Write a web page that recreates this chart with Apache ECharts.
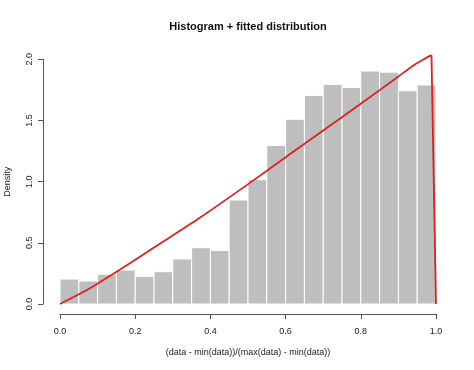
<!DOCTYPE html>
<html>
<head>
<meta charset="utf-8">
<script src="https://cdn.jsdelivr.net/npm/echarts@6/dist/echarts.min.js"></script>
<style>html,body{margin:0;padding:0;background:#fff;}#c{width:474px;height:370px;}</style>
</head>
<body>
<div id="c"></div>
<script>
// Histogram bins (start, end) and densities
var binStarts = [0.00,0.05,0.10,0.15,0.20,0.25,0.30,0.35,0.40,0.45,0.50,0.55,0.60,0.65,0.70,0.75,0.80,0.85,0.90,0.95];
var binEnds   = [0.05,0.10,0.15,0.20,0.25,0.30,0.35,0.40,0.45,0.50,0.55,0.60,0.65,0.70,0.75,0.80,0.85,0.90,0.95,1.00];
var densities = [0.204,0.188,0.243,0.278,0.226,0.264,0.368,0.460,0.438,0.850,1.016,1.296,1.510,1.705,1.795,1.770,1.904,1.895,1.743,1.790];
// Fitted curve points
var curveX = [0, 0.075, 0.164, 0.253, 0.372, 0.505, 0.625, 0.758, 0.851, 0.900, 0.940, 0.970, 0.988, 1.000];
var curveY = [0, 0.120, 0.290, 0.468, 0.705, 0.990, 1.255, 1.545, 1.750, 1.860, 1.950, 2.005, 2.034, 0];
var xTicks = [0, 0.2, 0.4, 0.6, 0.8, 1.0];
var yTicks = [0, 0.5, 1.0, 1.5, 2.0];

var histData = binStarts.map(function(s, i){ return [s, binEnds[i], densities[i]]; });
var curvePts = curveX.map(function(x, i){ return [x, curveY[i]]; });
var n = curvePts.length;
var risePart = curvePts.slice(0, n - 1);
var dropPart = curvePts.slice(n - 2);

var font = 'Liberation Sans, Arial, Helvetica, sans-serif';
var chart = echarts.init(document.getElementById('c'), null, {renderer:'canvas'});
chart.setOption({
  backgroundColor: '#ffffff',
  animation: false,
  title: {
    text: 'Histogram + fitted distribution',
    left: 243, top: 16, textAlign: 'center',
    textStyle: {fontFamily: font, fontSize: 11, fontWeight: 'bold', color: '#111'}
  },
  grid: {left: 60, right: 38, top: 59.3, bottom: 66, containLabel: false, outerBoundsMode: 'none'},
  xAxis: {
    type: 'value', min: 0, max: 1, interval: 0.2,
    offset: 10,
    name: '(data - min(data))/(max(data) - min(data))',
    nameLocation: 'middle', nameGap: 34,
    nameTextStyle: {fontFamily: font, fontSize: 9, color: '#222'},
    axisLine: {show: true, onZero: false, lineStyle: {color: '#555', width: 1}},
    axisTick: {show: true, length: 5, lineStyle: {color: '#555'}},
    splitLine: {show: false},
    axisLabel: {fontFamily: font, fontSize: 9, color: '#222', margin: 13,
      formatter: function(v){ return v.toFixed(1); }}
  },
  yAxis: {
    type: 'value', min: 0, max: 2, interval: 0.5,
    offset: 17,
    name: 'Density',
    nameLocation: 'middle', nameGap: 31, nameRotate: 90,
    nameTextStyle: {fontFamily: font, fontSize: 9, color: '#222'},
    axisLine: {show: true, onZero: false, lineStyle: {color: '#555', width: 1}},
    axisTick: {show: true, length: 5, lineStyle: {color: '#555'}},
    splitLine: {show: false},
    axisLabel: {fontFamily: font, fontSize: 9, color: '#222', margin: 9, rotate: 90,
      formatter: function(v){ return v.toFixed(1); }}
  },
  series: [
    {
      type: 'custom',
      data: histData,
      encode: {x: [0, 1], y: 2},
      renderItem: function(params, api){
        var p0 = api.coord([api.value(0), api.value(2)]);
        var p1 = api.coord([api.value(1), 0]);
        return {
          type: 'rect',
          shape: {x: p0[0], y: p0[1], width: p1[0] - p0[0], height: p1[1] - p0[1]},
          style: {fill: '#bebebe', stroke: '#ffffff', lineWidth: 1}
        };
      },
      z: 1
    },
    {
      type: 'line',
      data: risePart,
      showSymbol: false,
      smooth: 0.2,
      clip: false,
      lineStyle: {color: '#e02020', width: 1.8},
      z: 3
    },
    {
      type: 'line',
      data: dropPart,
      showSymbol: false,
      smooth: false,
      clip: false,
      lineStyle: {color: '#e02020', width: 1.8},
      z: 3
    }
  ]
});
</script>
</body>
</html>
